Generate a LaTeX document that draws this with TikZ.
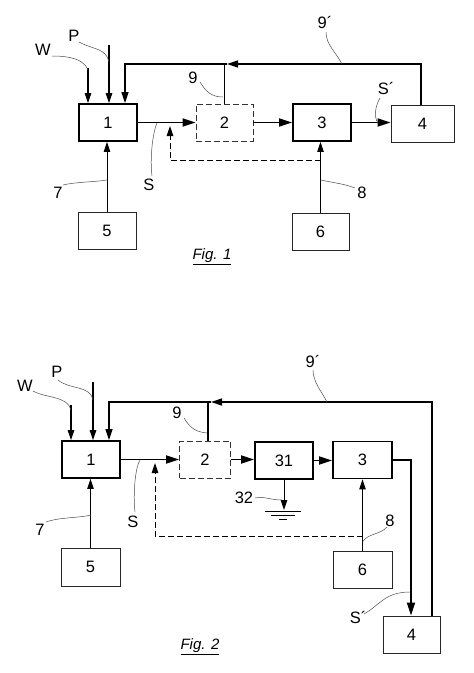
\documentclass[tikz,border=0pt]{standalone}
\usepackage{fontspec}
\setmainfont{Liberation Sans}
\usetikzlibrary{arrows.meta,calc}
\begin{document}
\begin{tikzpicture}[x=1pt,y=-1pt,
  every node/.style={font=\fontsize{16.5}{19}\selectfont},
  box/.style={draw, minimum width=58pt, minimum height=37pt, inner sep=0pt},
  boldbox/.style={box, line width=1.8pt},
  thinbox/.style={box, line width=0.9pt, draw=black!85},
  dashbox/.style={box, line width=0.9pt, draw=black!80, dash pattern=on 6pt off 3pt},
  sig/.style={line width=1.8pt, -{Triangle[length=13pt,width=8pt]}},
  fb/.style={line width=1.4pt},
  fbarrow/.style={fb, -{Triangle[length=11pt,width=7pt]}},
  inarrow/.style={line width=1.2pt, -{Triangle[length=10pt,width=6.5pt]}},
  thinarrow/.style={line width=0.9pt, -{Triangle[length=10pt,width=6.5pt]}},
  thinline/.style={line width=0.9pt},
  dashline/.style={line width=0.9pt, dash pattern=on 6pt off 3pt},
  dasharrow/.style={dashline, -{Triangle[length=10pt,width=6.5pt]}},
  leader/.style={line width=0.5pt, draw=black!70},
  lbl/.style={inner sep=0pt},
  figlbl/.style={inner sep=0pt, font=\fontsize{15}{17}\selectfont\itshape}
]
\useasboundingbox (0,0) rectangle (474,673);

% ================= Fig. 1 =================
\node[boldbox] (a1) at (108,122.5) {1};
\node[dashbox, minimum width=57pt] (a2) at (224.5,122.5) {2};
\node[boldbox] (a3) at (322,122.5) {3};
\node[thinbox, minimum width=63pt] (a4) at (422.5,123.5) {4};
\node[thinbox] (a5) at (107,230.5) {5};
\node[thinbox, minimum width=57pt] (a6) at (320.5,231.5) {6};

% signal path
\draw[sig] (a1.east) -- (a2.west);
\draw[sig] (a2.east) -- (a3.west);
\draw[sig] (a3.east) -- (a3.east -| a4.west);

% inputs W, P
\coordinate (aw) at (88,68);
\coordinate (ap) at (109,45);
\draw[inarrow] (aw) -- (aw |- a1.north);
\draw[inarrow] (ap) -- (ap |- a1.north);

% 5 -> 1, 6 -> 3
\draw[thinarrow] (a5.north) -- (a5.north |- a1.south);
\draw[thinarrow] (a6.north) -- (a6.north |- a3.south);

% dashed feedback
\coordinate (ad1) at (320.5,160);
\coordinate (ad2) at (170,160);
\coordinate (ad3) at (170,126);
\draw[dasharrow] (ad1) -- (ad2) -- (ad3);

% top feedback
\coordinate (af1) at (421,64);
\coordinate (af2) at (227,64);
\coordinate (af3) at (125,64);
\draw[fbarrow] (af1 |- a4.north) -- (af1) -- (af2);
\draw[fbarrow] (af2) -- (af3) -- (af3 |- a1.north);
\draw[fb] (a2.north) -- (a2.north |- af3);

% labels
\node[lbl] (aW) at (43,50) {W};
\node[lbl] (aP) at (74,36) {P};
\node[lbl] (a9) at (193,78) {9};
\node[lbl] (a9p) at (325,23) {9\textasciiacute};
\node[lbl] (aS) at (149,185) {S};
\node[lbl] (aSp) at (386,89) {S\textasciiacute};
\node[lbl] (a7) at (58,193) {7};
\node[lbl] (a8) at (362,193) {8};
\node[figlbl] (afig) at (212,257) {\underline{Fig. 1}};

% leaders
\draw[leader] (52,56) .. controls (72,56) and (84,60) .. (88,70);
\draw[leader] (79,42) .. controls (94,50) and (106,48) .. (109,62);
\draw[leader] (200,82) .. controls (206,92) and (212,97) .. (223,97);
\draw[leader] (326,32) .. controls (326,45) and (336,52) .. (342,64);
\draw[leader] (152,176) .. controls (150,160) and (152,135) .. (157,123);
\draw[leader] (380,98) .. controls (376,105) and (373,116) .. (378,123);
\draw[leader] (63,185) .. controls (75,182) and (95,182) .. (107,180);
\draw[leader] (320.5,180) .. controls (335,183) and (345,184) .. (355,188);

% ================= Fig. 2 =================
\node[boldbox] (b1) at (91,459.5) {1};
\node[dashbox, minimum width=51pt] (b2) at (205,459.5) {2};
\node[boldbox] (b31) at (284,460.5) {31};
\node[boldbox, minimum width=59pt] (b3) at (362.5,460) {3};
\node[thinbox, minimum width=57pt] (b4) at (411.5,634.5) {4};
\node[thinbox, minimum width=59pt, minimum height=38pt] (b5) at (90.5,567) {5};
\node[thinbox, minimum width=59pt] (b6) at (362.5,569.5) {6};

% signal path
\draw[sig] (b1.east) -- (b1.east -| b2.west);
\draw[sig] (b2.east) -- (b2.east -| b31.west);
\draw[sig] (b31.east) -- (b31.east -| b3.west);
\coordinate (bo) at (411,460);
\draw[sig] (b3.east) -- (bo) -- (bo |- b4.north);

% ground
\coordinate (bg) at (284,510);
\draw[thinarrow] (b31.south) -- (bg);
\draw[thinline] (265,511) -- (301,511);
\draw[thinline] (271,515) -- (295,515);
\draw[thinline] (279,519) -- (287,519);

% inputs W, P
\coordinate (bw) at (71,405);
\coordinate (bp) at (93,382);
\draw[inarrow] (bw) -- (bw |- b1.north);
\draw[inarrow] (bp) -- (bp |- b1.north);

% 5 -> 1, 6 -> 3
\draw[thinarrow] (b5.north) -- (b5.north |- b1.south);
\draw[thinarrow] (b6.north) -- (b6.north |- b3.south);

% dashed feedback
\coordinate (bd1) at (362.5,536);
\coordinate (bd2) at (155,536);
\coordinate (bd3) at (155,463);
\draw[dasharrow] (bd1) -- (bd2) -- (bd3);

% top feedback
\coordinate (bf1) at (432,402);
\coordinate (bf2) at (211,402);
\coordinate (bf3) at (109,402);
\draw[fbarrow] (bf1 |- b4.north) -- (bf1) -- (bf2);
\draw[fbarrow] (bf2) -- (bf3) -- (bf3 |- b1.north);
\draw[fb] (b2.north -| 208,0) -- (208,402);

% labels
\node[lbl] (bW) at (25,386) {W};
\node[lbl] (bP) at (57,372) {P};
\node[lbl] (b9) at (177,413) {9};
\node[lbl] (b9p) at (313,361) {9\textasciiacute};
\node[lbl] (bS) at (133,522) {S};
\node[lbl] (bSp) at (358,617) {S\textasciiacute};
\node[lbl] (b7) at (40,530) {7};
\node[lbl] (b8) at (390,521) {8};
\node[lbl] (b32) at (244,498) {32};
\node[figlbl] (bfig) at (200,647) {\underline{Fig. 2}};

% leaders
\draw[leader] (33,391) .. controls (45,398) and (68,396) .. (71,410);
\draw[leader] (58,380) .. controls (70,390) and (90,385) .. (93,400);
\draw[leader] (184,418) .. controls (190,428) and (196,432) .. (207,433);
\draw[leader] (313,370) .. controls (313,382) and (322,392) .. (327,402);
\draw[leader] (135,512) .. controls (133,495) and (135,468) .. (140,460);
\draw[leader] (364,614) .. controls (380,605) and (385,592) .. (410,592);
\draw[leader] (46,522) .. controls (60,517) and (80,518) .. (91,515);
\draw[leader] (387,527) .. controls (380,535) and (368,533) .. (362.5,542);
\draw[leader] (255,498) .. controls (265,496) and (270,500) .. (282,500);
\end{tikzpicture}
\end{document}
